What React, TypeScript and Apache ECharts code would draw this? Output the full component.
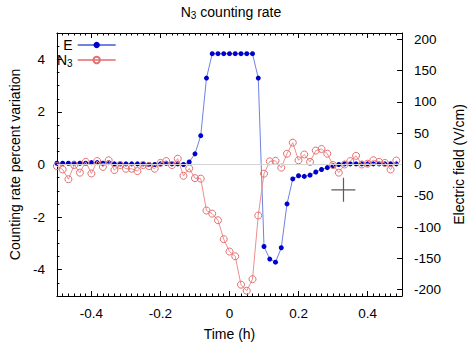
import React, { useEffect, useRef } from 'react';
import * as echarts from 'echarts';

// Time in minutes (x axis labels are shown in hours)
const timeMin = [
  -30, -29, -28, -27, -26, -25, -24, -23, -22, -21, -20, -19, -18, -17, -16, -15, -14, -13, -12, -11,
  -10, -9, -8, -7, -6, -5, -4, -3, -2, -1, 0, 1, 2, 3, 4, 5, 6, 7, 8, 9,
  10, 11, 12, 13, 14, 15, 16, 17, 18, 19, 20, 21, 22, 23, 24, 25, 26, 27, 28, 29,
];

// Electric field (V/cm), right axis
const eField = [
  2, 2, 2, 2, 2, 2, 3, 3, 2, 3, 1, 1, 1, 1, 1, 1, 0, 0, 1, 2,
  1, 1, 0, 4, 17, 46, 138, 177, 177, 177, 177, 177, 177, 177, 177, 138, -131, -151, -156, -133,
  -63, -23, -18, -19, -17, -12, -8, -5, -2, 0, 1, 1, 1, 1, 1, 1, 1, 1, 1, 1,
];

// N3 counting rate percent variation, left axis
const n3Rate = [
  -0.06, -0.19, -0.56, -0.02, -0.31, 0.10, -0.34, 0.13, -0.09, 0.16, -0.21, -0.02, -0.16, -0.16, -0.25, -0.02, -0.06, -0.16, 0.06, 0.13,
  -0.02, 0.22, -0.43, -0.15, -0.52, -0.54, -1.75, -1.87, -2.12, -2.84, -3.31, -3.49, -4.57, -4.80, -4.36, -1.94, -0.35, 0.12, 0.14, -0.12,
  0.41, 0.83, 0.16, 0.38, 0.10, 0.53, 0.59, 0.41, -0.02, -0.31, 0.00, 0.13, 0.33, 0.00, 0.03, 0.16, 0.10, 0.06, -0.19, 0.15,
];

const xMajorTicks = [-24, -12, 0, 12, 24]; // minutes = -0.4 .. 0.4 h
const leftMajorTicks = [-4, -2, 0, 2, 4];
const leftMinorTicks = [-4.5, -3.5, -3, -2.5, -1.5, -1, -0.5, 0.5, 1, 1.5, 2.5, 3, 3.5, 4.5];
const rightTicks = [-200, -150, -100, -50, 0, 50, 100, 150, 200];
const cursorMark = [19.8, -0.96];

const FONT = '"Liberation Sans", Arial, Helvetica, sans-serif';
const BLACK = '#000';

function fmtHours(v: number) {
  const h = v / 60;
  if (Math.abs(h) < 1e-9) return '0';
  return h.toFixed(1);
}

export default function App() {
  const ref = useRef<HTMLDivElement>(null);

  useEffect(() => {
    if (!ref.current) return;
    const chart = echarts.init(ref.current, undefined, { renderer: 'svg' });

    const rich = {
      n: { fontSize: 14, lineHeight: 14, color: BLACK, fontFamily: FONT, fontWeight: 'normal' },
      s: { fontSize: 10, lineHeight: 10, color: BLACK, fontFamily: FONT, fontWeight: 'normal', padding: [6, 0, 0, 0] },
    };

    const xCommon = {
      type: 'value',
      min: -30,
      max: 30,
      splitLine: { show: false },
    };

    const option: any = {
      animation: false,
      backgroundColor: '#fff',
      textStyle: { fontFamily: FONT },
      title: {
        text: '{n|N}{s|3}{n| counting rate}',
        left: 226,
        top: 0,
        textAlign: 'center',
        textStyle: { fontWeight: 'normal', rich },
      },
      legend: {
        orient: 'vertical',
        left: 52,
        top: 33,
        align: 'right',
        itemWidth: 38,
        itemHeight: 8,
        itemGap: 0,
        data: ['E', 'N3'],
        formatter: (name: string) => (name === 'N3' ? '{n|N}{s|3}' : '{n|E}'),
        textStyle: { width: 22, align: 'right', rich },
      },
      grid: { left: 49, right: 70, top: 33, bottom: 43 },
      xAxis: [
        {
          ...xCommon,
          position: 'bottom',
          axisLine: { show: true, onZero: false, lineStyle: { color: BLACK, width: 1 } },
          axisTick: { show: true, inside: true, length: 5, customValues: xMajorTicks, lineStyle: { color: BLACK } },
          axisLabel: {
            customValues: xMajorTicks,
            formatter: fmtHours,
            color: BLACK,
            fontSize: 13.5,
            fontFamily: FONT,
            margin: 10,
          },
          name: 'Time (h)',
          nameLocation: 'middle',
          nameGap: 31,
          nameTextStyle: { color: BLACK, fontSize: 14, fontFamily: FONT },
        },
        {
          ...xCommon,
          position: 'bottom',
          interval: 1,
          axisLine: { show: false, onZero: false },
          axisTick: { show: true, inside: true, length: 2.5, lineStyle: { color: BLACK } },
          axisLabel: { show: false },
        },
        {
          ...xCommon,
          position: 'top',
          axisLine: { show: true, onZero: false, lineStyle: { color: BLACK, width: 1 } },
          axisTick: { show: true, inside: true, length: 5, customValues: xMajorTicks, lineStyle: { color: BLACK } },
          axisLabel: { show: false },
        },
        {
          ...xCommon,
          position: 'top',
          interval: 1,
          axisLine: { show: false, onZero: false },
          axisTick: { show: true, inside: true, length: 2.5, lineStyle: { color: BLACK } },
          axisLabel: { show: false },
        },
      ],
      yAxis: [
        {
          type: 'value',
          min: -5,
          max: 5,
          position: 'left',
          splitLine: { show: false },
          axisLine: { show: true, onZero: false, lineStyle: { color: BLACK, width: 1 } },
          axisTick: { show: true, inside: true, length: 5, customValues: leftMajorTicks, lineStyle: { color: BLACK } },
          axisLabel: { customValues: leftMajorTicks, color: BLACK, fontSize: 13.5, fontFamily: FONT, margin: 12 },
          name: 'Counting rate percent variation',
          nameLocation: 'middle',
          nameRotate: 90,
          nameGap: 33,
          nameTextStyle: { color: BLACK, fontSize: 14, fontFamily: FONT },
        },
        {
          type: 'value',
          min: -5,
          max: 5,
          position: 'left',
          splitLine: { show: false },
          axisLine: { show: false, onZero: false },
          axisTick: { show: true, inside: true, length: 2.5, customValues: leftMinorTicks, lineStyle: { color: BLACK } },
          axisLabel: { show: false },
        },
        {
          type: 'value',
          min: -210,
          max: 210,
          position: 'right',
          splitLine: { show: false },
          axisLine: { show: true, onZero: false, lineStyle: { color: BLACK, width: 1 } },
          axisTick: { show: true, inside: true, length: 5, customValues: rightTicks, lineStyle: { color: BLACK } },
          axisLabel: { customValues: rightTicks, color: BLACK, fontSize: 13.5, fontFamily: FONT, margin: 12 },
          name: 'Electric field (V/cm)',
          nameLocation: 'middle',
          nameRotate: 90,
          nameGap: 46,
          nameTextStyle: { color: BLACK, fontSize: 14, fontFamily: FONT },
        },
      ],
      series: [
        {
          name: 'E',
          type: 'line',
          xAxisIndex: 0,
          yAxisIndex: 2,
          data: timeMin.map((m, i) => [m, eField[i]]),
          symbol: 'circle',
          symbolSize: 5,
          showAllSymbol: true,
          itemStyle: { color: '#0000cc' },
          lineStyle: { color: '#7083de', width: 1 },
          markLine: {
            silent: true,
            symbol: 'none',
            label: { show: false },
            lineStyle: { color: '#d4d4d4', width: 1, type: 'solid' },
            data: [{ yAxis: 0 }],
          },
          z: 2,
        },
        {
          name: 'N3',
          type: 'line',
          xAxisIndex: 0,
          yAxisIndex: 0,
          data: timeMin.map((m, i) => [m, n3Rate[i]]),
          symbol: 'circle',
          symbolSize: 7,
          showAllSymbol: true,
          itemStyle: { color: 'rgba(255,255,255,0)', borderColor: '#e37070', borderWidth: 1 },
          lineStyle: { color: '#ef8e8e', width: 1 },
          z: 3,
        },
        {
          name: 'cursor',
          type: 'scatter',
          xAxisIndex: 0,
          yAxisIndex: 0,
          silent: true,
          data: [cursorMark],
          symbol: 'path://M11.5,0h1.2v24h-1.2zM0,11.5h24v1.2h-24z',
          symbolSize: 24,
          itemStyle: { color: '#333' },
          z: 4,
        },
      ],
    };

    chart.setOption(option);
    return () => chart.dispose();
  }, []);

  return (
    <div
      ref={ref}
      style={{ position: 'fixed', left: 0, top: 0, width: 474, height: 346, background: '#fff' }}
    />
  );
}
